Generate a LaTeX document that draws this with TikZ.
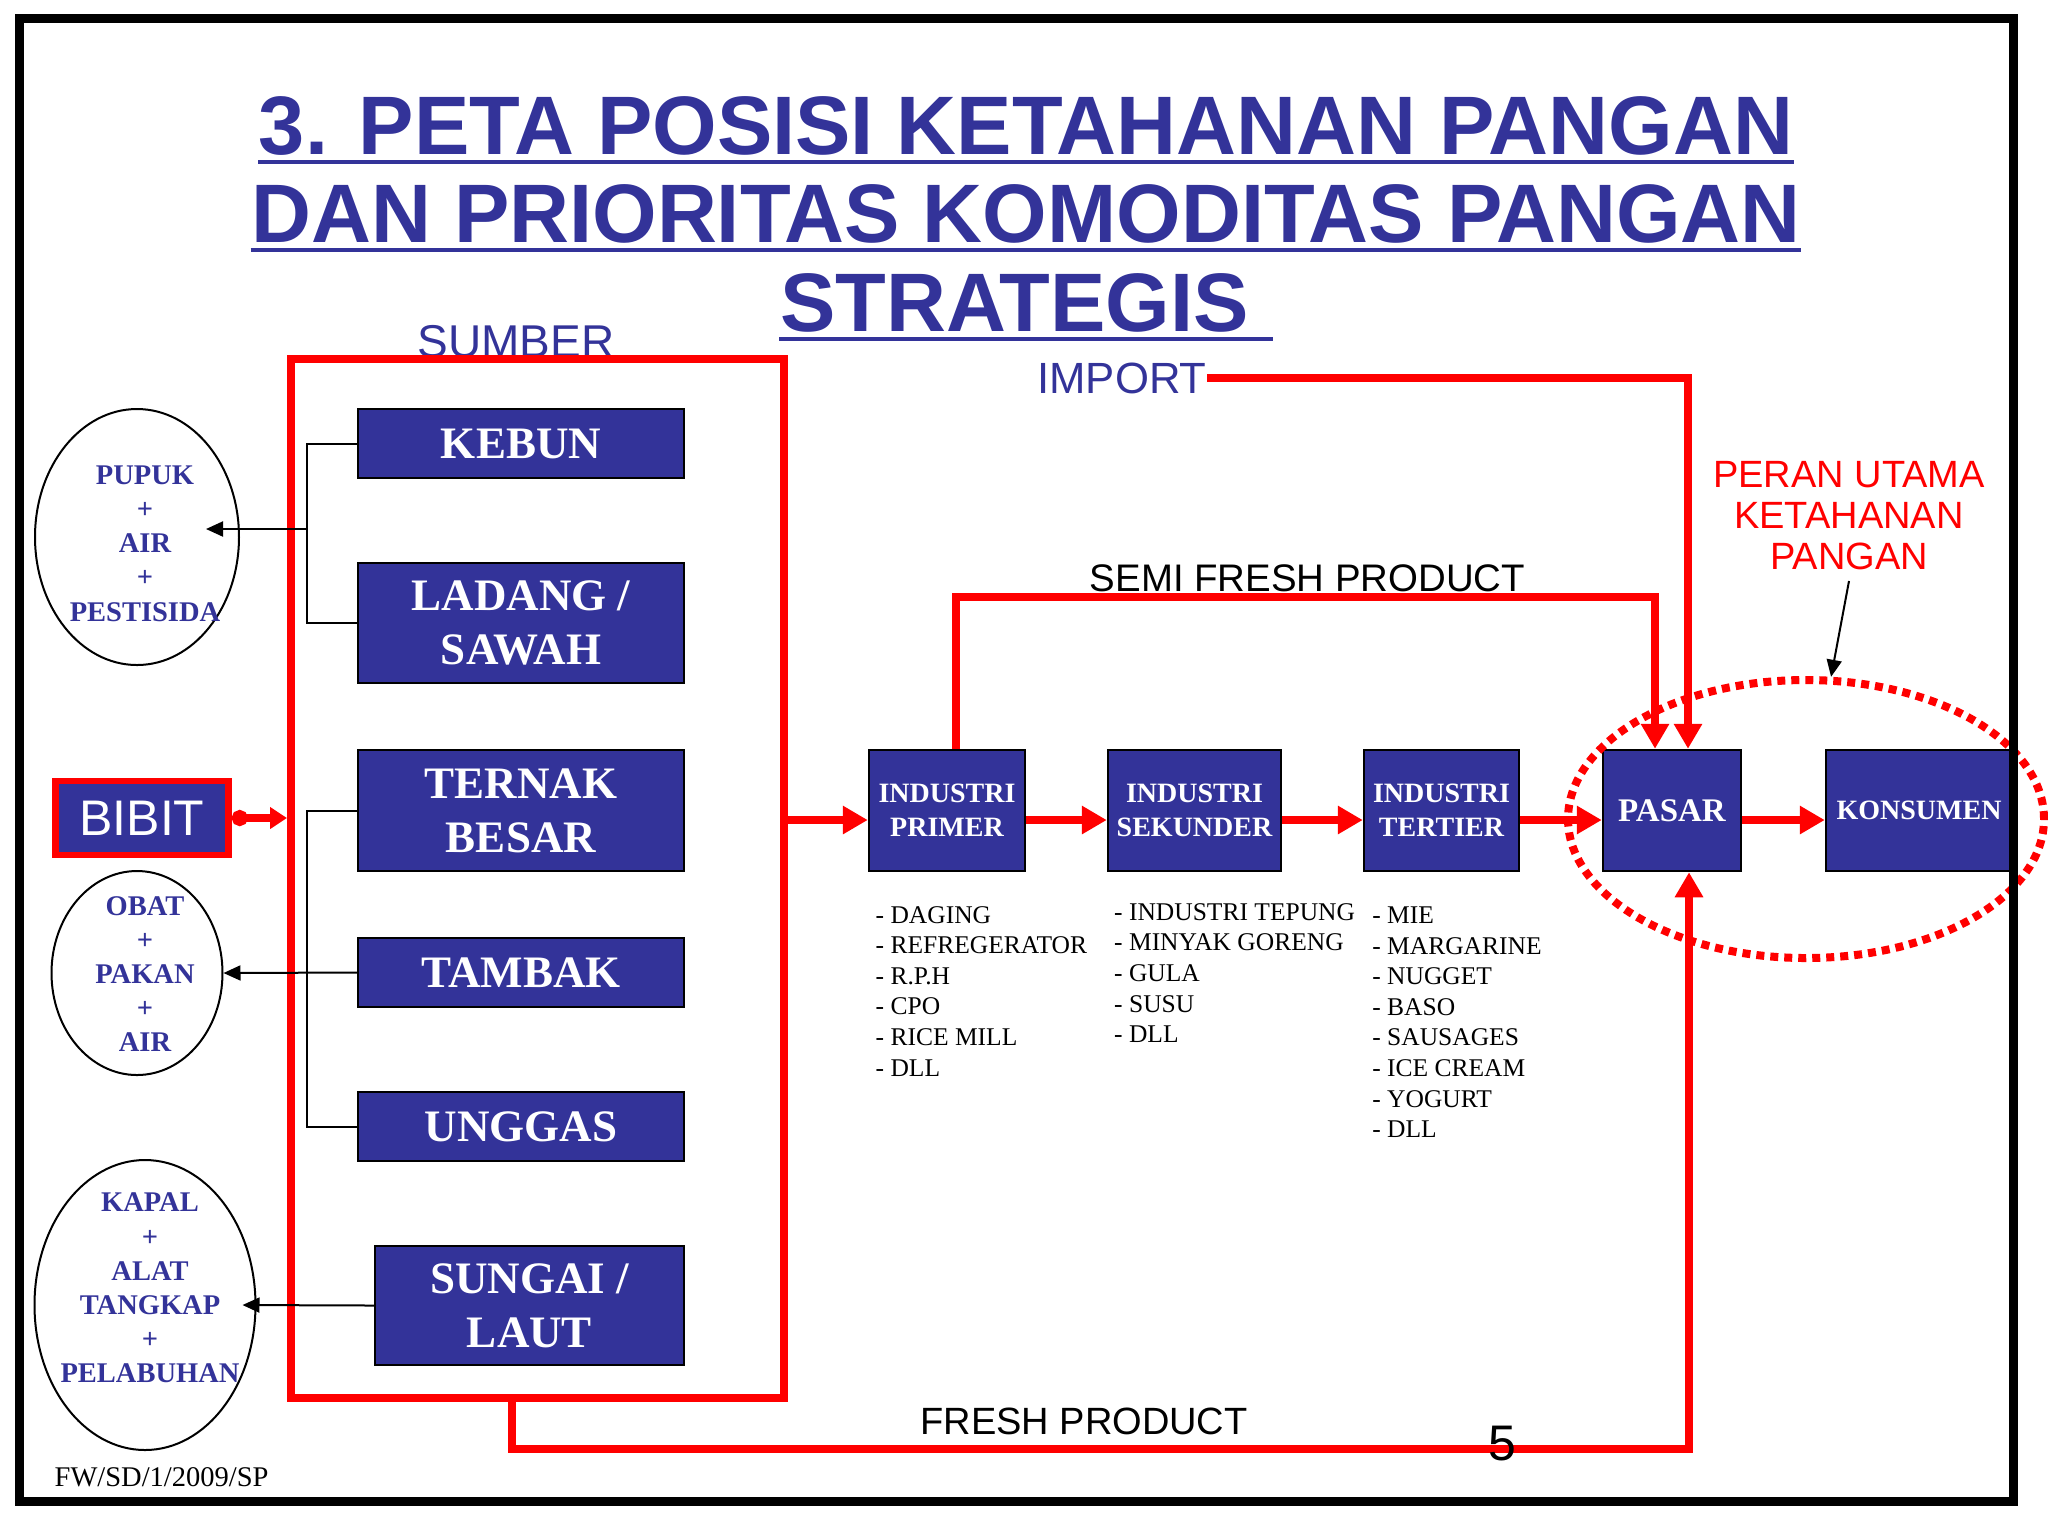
\documentclass[tikz,border=0pt]{standalone}
\usepackage{fontspec}
\setmainfont{Liberation Serif}
\setsansfont{Liberation Sans}
\usepackage{tikz}
\usetikzlibrary{arrows.meta,calc,shapes.geometric}
\definecolor{boxblue}{HTML}{333399}
\definecolor{titleblue}{HTML}{333399}
\newcommand{\mmfont}[2]{\fontsize{#1mm}{#2mm}\selectfont}

\begin{document}
\begin{tikzpicture}[x=0.1mm, y=-0.1mm,
    srcbox/.style={draw=black, line width=0.25mm, fill=boxblue, text=white, font=\bfseries\mmfont{4.5}{5.4}, align=center, inner sep=0, minimum width=32.6mm},
    indbox/.style={draw=black, line width=0.25mm, fill=boxblue, text=white, font=\bfseries\mmfont{2.8}{3.36}, align=center, inner sep=0, minimum height=12.1mm},
    needs/.style={ellipse, draw=black, line width=0.2mm, inner sep=0},
    needtext/.style={text=titleblue, font=\bfseries\mmfont{2.85}{3.42}, align=center, inner sep=0},
    sanslabel/.style={font=\sffamily\mmfont{#1}{#1}, inner sep=0, anchor=base},
    itemtext/.style={font=\mmfont{2.55}{3.07}, inner sep=0, anchor=base west},
    redarrow/.style={red, line width=0.8mm, -{Triangle[length=2.5mm,width=2.7mm]}},
    thinarrow/.style={black, line width=0.2mm, -{Triangle[length=1.7mm,width=1.5mm]}},
    bracket/.style={black, line width=0.2mm}]
    \useasboundingbox (0,0) rectangle (2048,1536);

    % Title
    \node[sanslabel=8.3, font=\sffamily\bfseries\mmfont{8.3}{8.85}, text=titleblue] (title1) at (1026,154) {3. PETA POSISI KETAHANAN PANGAN};
    \node[sanslabel=8.3, font=\sffamily\bfseries\mmfont{8.3}{8.85}, text=titleblue] (title2) at (1026,242) {DAN PRIORITAS KOMODITAS PANGAN};
    \node[sanslabel=8.3, font=\sffamily\bfseries\mmfont{8.3}{8.85}, text=titleblue] (title3) at (1026,331) {STRATEGIS\rule{2.3mm}{0pt}};
    \foreach \t in {title1,title2,title3}
        \draw[titleblue, line width=0.45mm] ($(\t.base west)+(0,8)$) -- ($(\t.base east)+(0,8)$);

    % Sumber
    \node[sanslabel=4.6, text=titleblue] (sumberlabel) at (516,357) {SUMBER};
    \node[draw=red, line width=0.8mm, minimum width=49.3mm, minimum height=103.9mm, inner sep=0] (sumber) at (537.5,878.5) {};
    \node[srcbox, minimum height=6.9mm] (kebun) at (521,443.5) {KEBUN};
    \node[srcbox, minimum height=12mm] (ladang) at (521,623) {LADANG /\\SAWAH};
    \node[srcbox, minimum height=12.1mm] (ternak) at (521,810.5) {TERNAK\\BESAR};
    \node[srcbox, minimum height=6.9mm] (tambak) at (521,972.5) {TAMBAK};
    \node[srcbox, minimum height=6.9mm] (unggas) at (521,1126.5) {UNGGAS};
    \node[srcbox, minimum width=30.9mm, minimum height=11.9mm] (sungai) at (529.5,1305.5) {SUNGAI /\\LAUT};

    % Needs
    \node[needs, minimum width=20.4mm, minimum height=25.6mm] (pupuk) at (137,537) {};
    \node[needtext] (pupuktext) at (145,543.5) {PUPUK\\+\\AIR\\+\\PESTISIDA};
    \node[needs, minimum width=17.1mm, minimum height=20.4mm] (obat) at (137,973) {};
    \node[needtext] (obattext) at (145,974) {OBAT\\+\\PAKAN\\+\\AIR};
    \node[needs, minimum width=22.1mm, minimum height=29mm] (kapal) at (145,1305) {};
    \node[needtext] (kapaltext) at (150,1288) {KAPAL\\+\\ALAT\\TANGKAP\\+\\PELABUHAN};

    \coordinate (spine) at (307,529);
    \draw[bracket] (kebun.west) -- (kebun.west -| spine) -- (ladang.west -| spine) -- (ladang.west);
    \draw[thinarrow] (spine) -- ($(spine -| pupuk.east)+(-34,0)$);
    \draw[bracket] (ternak.west) -- (ternak.west -| spine) -- (unggas.west -| spine) -- (unggas.west);
    \draw[thinarrow] (tambak.west) -- (obat.east);
    \draw[thinarrow] (sungai.west) -- ($(kapal.east)+(-14,0)$);

    % Bibit
    \node[draw=red, line width=0.65mm, fill=boxblue, text=white, font=\sffamily\mmfont{5}{5}, minimum width=17.3mm, minimum height=7.4mm, inner sep=0] (bibit) at (142,818) {BIBIT};
    \draw[red, line width=0.75mm, {Circle[length=1.6mm]}-{Triangle[length=1.7mm,width=2.1mm]}] (bibit.east) -- (sumber.west |- bibit.east);

    % Industri
    \coordinate (flow) at (0,820);
    \node[indbox, minimum width=15.6mm] (primer) at (947,810.5) {INDUSTRI\\PRIMER};
    \node[indbox, minimum width=17.3mm] (sekunder) at (1194.5,810.5) {INDUSTRI\\SEKUNDER};
    \node[indbox, minimum width=15.5mm] (tertier) at (1441.5,810.5) {INDUSTRI\\TERTIER};
    \node[indbox, minimum width=13.8mm, font=\bfseries\mmfont{3.3}{4}] (pasar) at (1672,810.5) {PASAR};
    \node[indbox, minimum width=18.6mm] (konsumen) at (1919,810.5) {KONSUMEN};

    \draw[redarrow] (sumber.east |- flow) -- (primer.west |- flow);
    \draw[redarrow] (primer.east |- flow) -- (sekunder.west |- flow);
    \draw[redarrow] (sekunder.east |- flow) -- (tertier.west |- flow);
    \draw[redarrow] (tertier.east |- flow) -- (pasar.west |- flow);
    \draw[redarrow] (pasar.east |- flow) -- (konsumen.west |- flow);

    % Product lists
    \foreach \entry [count=\i] in {DAGING, REFREGERATOR, R.P.H, CPO, RICE MILL, DLL}
        \node[itemtext] (primitem\i) at (875,{923+30.6*(\i-1)}) {- \entry};
    \foreach \entry [count=\i] in {INDUSTRI TEPUNG, MINYAK GORENG, GULA, SUSU, DLL}
        \node[itemtext] (sekitem\i) at (1113.5,{920+30.7*(\i-1)}) {- \entry};
    \foreach \entry [count=\i] in {MIE, MARGARINE, NUGGET, BASO, SAUSAGES, ICE CREAM, YOGURT, DLL}
        \node[itemtext] (tertitem\i) at (1371.6,{923.5+30.6*(\i-1)}) {- \entry};

    % Import, semi fresh, fresh
    \node[sanslabel=4.37, text=titleblue] (import) at (1122,393) {IMPORT};
    \draw[redarrow] (import.east) -| ($(pasar.north)+(16,0)$);

    \node[sanslabel=3.84] (semilabel) at (1307.5,591) {SEMI FRESH PRODUCT};
    \coordinate (semitop) at (1655,597);
    \draw[redarrow] ($(primer.north)+(9,0)$) |- (semitop) -- (semitop |- pasar.north);

    \coordinate (freshbot) at (512,1449);
    \draw[redarrow] (sumber.south -| freshbot) -- (freshbot) -| ($(pasar.south)+(17,0)$);
    \node[sanslabel=3.8] (freshlabel) at (1084,1434) {FRESH PRODUCT};

    % Peran utama
    \node[text=red, font=\sffamily\mmfont{3.8}{4.1}, align=center, inner sep=1mm] (peran) at (1849,516) {PERAN UTAMA\\KETAHANAN\\PANGAN};
    \node[ellipse, draw=red, line width=0.8mm, dash pattern=on 0.8mm off 0.6mm, minimum width=47.6mm, minimum height=27.8mm, inner sep=0] (utama) at (1806,819) {};
    \draw[thinarrow] (peran.south) -- (utama.80);

    % Footer
    \node[sanslabel=5] (pagenum) at (1502,1460) {5};
    \node[font=\mmfont{2.85}{2.85}, anchor=base west, inner sep=0] (footer) at (54,1486.5) {FW/SD/1/2009/SP};

    % Frame
    \draw[line width=0.9mm] (19,18) rectangle (2013,1501);
\end{tikzpicture}
\end{document}
